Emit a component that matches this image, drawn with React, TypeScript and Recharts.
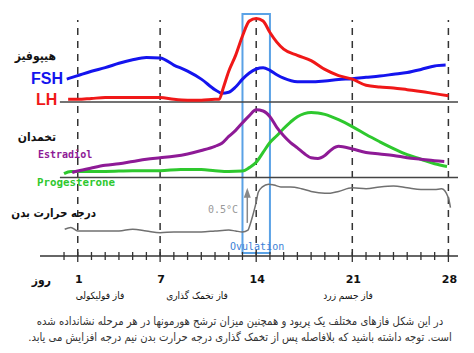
import React from "react";
import {
  ComposedChart,
  Line,
  XAxis,
  YAxis,
  ReferenceLine,
  ReferenceArea,
} from "recharts";

// hypophysis hormones (relative level, 0..100)
const FSH_DAYS = [0.2, 1, 2, 3, 4, 5, 6, 7, 8, 9, 10, 11, 11.5, 12, 12.5, 13, 13.5, 14, 14.5, 15, 15.5, 16, 17, 18, 19, 20, 21, 22, 23, 24, 25, 26, 27, 27.8];
const FSH_LEVEL = [26, 30, 35, 39, 44, 48, 50.5, 50, 42, 35, 26, 14, 10, 11, 17, 26, 33, 37.5, 39, 36, 31, 27, 23, 23, 24, 25.5, 26.5, 28, 29.5, 31.5, 33.5, 37, 41, 42];

const LH_DAYS = [0.3, 1, 2, 3, 4, 5, 6, 7, 8, 9, 10, 11, 11.3, 11.6, 12, 12.5, 13, 13.5, 14, 14.5, 15, 15.5, 16, 17, 18, 19, 20, 21, 22, 23, 24, 25, 26, 27, 28];
const LH_LEVEL = [3, 3, 4, 5, 5, 5, 5, 5, 3, 2, 2, 3, 3, 16, 35, 53, 75, 92, 95, 92, 79, 68, 60, 53, 47, 37, 30, 26, 19, 17, 16, 14, 12, 9.5, 7];

// ovarian hormones (relative level)
const E2_DAYS = [0.6, 1, 2, 3, 4, 5, 6, 7, 8, 9, 10, 11, 11.5, 12, 12.5, 13, 13.5, 14, 14.5, 15, 15.5, 16, 16.5, 17, 17.5, 18, 18.5, 19, 19.5, 20, 21, 22, 23, 24, 25, 26, 27, 27.7];
const E2_LEVEL = [6.5, 8.5, 12.5, 16, 18, 21, 24, 26, 28, 31, 35.5, 41, 45, 54, 62, 72, 81.5, 89, 87.5, 80, 66, 55, 46, 39, 31.5, 26, 25, 29, 37, 41, 37.5, 33, 31, 29, 26, 24, 22, 21];

const P4_DAYS = [0, 0.5, 1, 3, 5, 7, 8.5, 10, 11, 12, 13, 13.5, 14, 14.5, 15, 15.5, 16, 16.5, 17, 17.5, 18, 18.5, 19, 20, 21, 22, 23, 24, 25, 26, 27, 27.9];
const P4_LEVEL = [5, 8, 8, 8, 9, 9, 10.5, 10.5, 9, 8, 8.5, 13, 20, 33, 46, 55, 64.5, 73, 80, 84, 85.5, 85, 83, 76, 67, 56.5, 47, 38, 30, 24, 18, 14.5];

// basal body temperature, degrees C
const TEMP_DAYS = [0.05, 0.5, 1, 2, 3, 4, 5, 6, 7, 8, 9, 10, 11, 12, 12.5, 13, 13.4, 13.55, 13.8, 14, 14.15, 14.45, 14.9, 15.3, 15.8, 16.5, 17.3, 18, 19, 19.4, 20, 21, 22, 23, 24, 25, 26, 27, 27.5, 28, 28.15];
const TEMP_C = [36.52, 36.54, 36.5, 36.5, 36.5, 36.5, 36.52, 36.5, 36.48, 36.49, 36.49, 36.49, 36.5, 36.51, 36.5, 36.49, 36.51, 36.57, 36.7, 36.82, 36.93, 36.99, 37.02, 37.01, 36.99, 36.99, 36.97, 36.94, 36.92, 36.92, 36.94, 36.98, 36.97, 36.99, 37.0, 36.98, 36.96, 36.96, 36.97, 36.87, 36.76];

const ALL_DAYS = Array.from({ length: 29 }, (_, i) => i);
const LABELED_DAYS = [1, 7, 14, 21, 28];
const OVULATION_WINDOW = [13, 15];

const zip = (days: number[], vals: number[]) => days.map((day, i) => ({ day, v: vals[i] }));

// plot area in px
const PLOT_TOP = 14;
const PLOT_BOTTOM = 256;
const FRAME_H = PLOT_BOTTOM - PLOT_TOP;

// domain so that value v0 sits at pixel y0 and v1 at y1
const bandDomain = (v0: number, y0: number, v1: number, y1: number) => {
  const k = (v1 - v0) / (y0 - y1);
  return [v0 - (PLOT_BOTTOM - y0) * k, v0 + (y0 - PLOT_TOP) * k];
};

const DayTick = ({ x, y, payload }: any) => {
  const d = payload.value;
  const major = LABELED_DAYS.includes(d);
  return (
    <g>
      <line x1={x} x2={x} y1={y - 4} y2={y + (major ? 6 : 4)} stroke="#333" strokeWidth={1.3} />
      {major && (
        <text x={x + 1} y={y + 27} textAnchor="middle" fontFamily="DejaVu Sans" fontWeight="bold" fontSize={11} fill="#111">
          {d}
        </text>
      )}
    </g>
  );
};

const Arrow = (p: any) => {
  const { x1, y1, x2, y2 } = p;
  return (
    <g>
      <line x1={x1} y1={y1} x2={x2} y2={y2 + 8} stroke="#888" strokeWidth={1.5} />
      <polygon points={`${x2},${y2} ${x2 - 3.5},${y2 + 10} ${x2 + 3.5},${y2 + 10}`} fill="#888" />
    </g>
  );
};

const abs = (s: React.CSSProperties): React.CSSProperties => ({ position: "absolute", whiteSpace: "nowrap", ...s });
const fa = { fontFamily: "'DejaVu Sans Condensed', 'DejaVu Sans'", direction: "rtl" as const };
const mono = { fontFamily: "DejaVu Sans Mono" };

export default function App() {
  return (
    <div style={{ position: "absolute", left: 0, top: 0, width: 474, height: 353, background: "#fff" }}>
      <ComposedChart width={474} height={300} margin={{ top: PLOT_TOP, right: 16, left: 40, bottom: 0 }}>
        <XAxis
          type="number"
          dataKey="day"
          domain={[-1.75, 28.7]}
          allowDataOverflow
          ticks={ALL_DAYS}
          interval={0}
          height={44}
          tickSize={0}
          tickMargin={0}
          tickLine={false}
          tick={<DayTick />}
          axisLine={{ stroke: "#333", strokeWidth: 1.5 }}
        />
        <YAxis yAxisId="frame" hide type="number" domain={[0, FRAME_H]} allowDataOverflow />
        <YAxis yAxisId="hyp" hide domain={bandDomain(0, 102, 100, 14)} />
        <YAxis yAxisId="ova" hide domain={bandDomain(0, 177.5, 100, 101.5)} />
        <YAxis yAxisId="temp" hide domain={bandDomain(36.5, 231, 37.0, 186)} />

        {LABELED_DAYS.map((d) => (
          <ReferenceLine
            key={d}
            yAxisId="frame"
            segment={[{ x: d, y: 0 }, { x: d, y: FRAME_H - 6 }]}
            stroke="#333"
            strokeWidth={1.5}
            strokeDasharray="7 6"
          />
        ))}
        <ReferenceLine yAxisId="frame" segment={[{ x: -0.3, y: 154 }, { x: 28.7, y: 154 }]} stroke="#444" strokeWidth={1.5} />
        <ReferenceLine yAxisId="frame" segment={[{ x: -0.3, y: 78.5 }, { x: 28.7, y: 78.5 }]} stroke="#444" strokeWidth={1.5} />

        <Line yAxisId="hyp" data={zip(FSH_DAYS, FSH_LEVEL)} dataKey="v" type="monotone" stroke="#1414ee" strokeWidth={3} dot={false} isAnimationActive={false} />
        <Line yAxisId="hyp" data={zip(LH_DAYS, LH_LEVEL)} dataKey="v" type="monotone" stroke="#f01818" strokeWidth={3} dot={false} isAnimationActive={false} />
        <Line yAxisId="ova" data={zip(P4_DAYS, P4_LEVEL)} dataKey="v" type="monotone" stroke="#2ec82e" strokeWidth={3} dot={false} isAnimationActive={false} />
        <Line yAxisId="ova" data={zip(E2_DAYS, E2_LEVEL)} dataKey="v" type="monotone" stroke="#8e1a96" strokeWidth={3} dot={false} isAnimationActive={false} />
        <Line yAxisId="temp" data={zip(TEMP_DAYS, TEMP_C)} dataKey="v" type="monotone" stroke="#707070" strokeWidth={1.5} dot={false} isAnimationActive={false} />

        <ReferenceLine yAxisId="temp" segment={[{ x: 13.35, y: 36.59 }, { x: 13.35, y: 36.98 }]} shape={<Arrow />} />
        <ReferenceArea
          yAxisId="frame"
          x1={OVULATION_WINDOW[0]}
          x2={OVULATION_WINDOW[1]}
          y1={3}
          y2={FRAME_H}
          fill="none"
          fillOpacity={0}
          stroke="#5aa2e6"
          strokeWidth={2}
        />
      </ComposedChart>

      <div style={abs({ ...fa, right: 474 - 56, top: 49, fontSize: 12, fontWeight: "bold", color: "#111" })}>هیپوفیز</div>
      <div style={abs({ fontFamily: "Liberation Sans", left: 31, top: 70, fontSize: 16, fontWeight: "bold", color: "#1414ee" })}>FSH</div>
      <div style={abs({ fontFamily: "Liberation Sans", left: 36, top: 91, fontSize: 16, fontWeight: "bold", color: "#f01818" })}>LH</div>

      <div style={abs({ ...fa, right: 474 - 56, top: 130, fontSize: 12, fontWeight: "bold", color: "#111" })}>تخمدان</div>
      <div style={abs({ ...mono, left: 38, top: 149, fontSize: 10, fontWeight: "bold", color: "#8e1a96" })}>Estradiol</div>
      <div style={abs({ ...mono, left: 37, top: 176, fontSize: 10.8, fontWeight: "bold", color: "#2ec82e" })}>Progesterone</div>

      <div style={abs({ ...fa, right: 474 - 96, top: 206, fontSize: 11.5, fontWeight: "bold", color: "#111" })}>درجه حرارت بدن</div>
      <div style={abs({ ...mono, left: 208, top: 204, fontSize: 10, color: "#999" })}>0.5°C</div>
      <div style={abs({ ...mono, left: 230, top: 241, fontSize: 10, color: "#3b7fd6" })}>Ovulation</div>

      <div style={abs({ ...fa, right: 474 - 51, top: 273, fontSize: 12, fontWeight: "bold", color: "#111" })}>روز</div>
      <div style={abs({ ...fa, left: 60, width: 80, textAlign: "center", top: 290, fontSize: 10, color: "#111" })}>فاز فولیکولی</div>
      <div style={abs({ ...fa, left: 157, width: 80, textAlign: "center", top: 290, fontSize: 10, color: "#111" })}>فاز تخمک گذاری</div>
      <div style={abs({ ...fa, left: 308, width: 80, textAlign: "center", top: 290, fontSize: 10, color: "#111" })}>فاز جسم زرد</div>

      <div style={abs({ ...fa, left: 20, width: 440, textAlign: "center", top: 314, fontSize: 11.2, lineHeight: "16px", color: "#333" })}>
        در این شکل فازهای مختلف یک پریود و همچنین میزان ترشح هورمونها در هر مرحله نشانداده شده
        <br />
        است. توجه داشته باشید که بلافاصله پس از تخمک گذاری درجه حرارت بدن نیم درجه افزایش می یابد.
      </div>
    </div>
  );
}
